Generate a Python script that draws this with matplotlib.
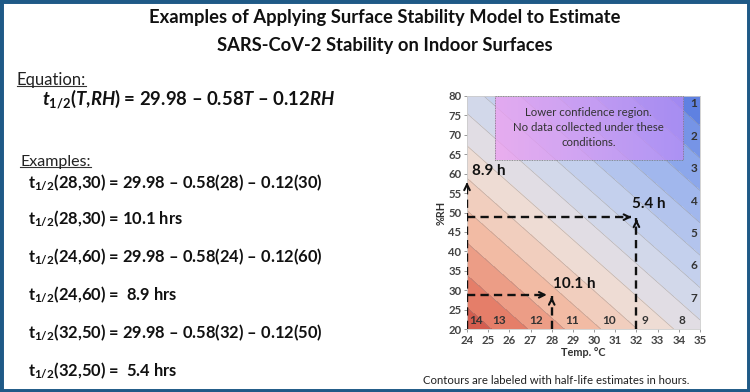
import numpy as np
import matplotlib
matplotlib.use("Agg")
from matplotlib import pyplot as plt
from matplotlib.colors import LinearSegmentedColormap
from matplotlib.patches import Rectangle
from matplotlib.lines import Line2D

# model: t_half = a - b*T - c*RH
coef_a, coef_b, coef_c = 29.98, 0.58, 0.12
temp_range = [24, 35]
rh_range = [20, 80]
levels = list(range(0, 15))
bottom_labels = [14, 13, 12, 11, 10, 9, 8]
right_labels = [1, 2, 3, 4, 5, 6, 7]

# worked examples (T, RH, half-life)
ex_temp = [28, 24, 32]
ex_rh = [30, 60, 50]
ex_hours = [10.1, 8.9, 5.4]

# lower confidence box (T from/to, RH from/to)
lowconf_temp = [25.3, 34.2]
lowconf_rh = [63.6, 80]

title_lines = ["Examples of Applying Surface Stability Model to Estimate",
               "SARS-CoV-2 Stability on Indoor Surfaces"]
example_lines = [
    "t$_{1/2}$(28,30) = 29.98 \u2013 0.58(28) \u2013 0.12(30)",
    "t$_{1/2}$(28,30) = 10.1 hrs",
    "t$_{1/2}$(24,60) = 29.98 \u2013 0.58(24) \u2013 0.12(60)",
    "t$_{1/2}$(24,60) =  8.9 hrs",
    "t$_{1/2}$(32,50) = 29.98 \u2013 0.58(32) \u2013 0.12(50)",
    "t$_{1/2}$(32,50) =  5.4 hrs",
]

plt.rcParams['font.family'] = ['Lato', 'DejaVu Sans']
plt.rcParams['mathtext.fontset'] = 'custom'
plt.rcParams['mathtext.rm'] = 'Lato:bold'
plt.rcParams['mathtext.it'] = 'Lato:italic:bold'
plt.rcParams['mathtext.bf'] = 'Lato:bold'

W, H = 750, 392
fig = plt.figure(figsize=(7.5, 3.92), dpi=100)
fig.patch.set_facecolor('white')

def fx(px):
    return px / W

def fy(py):
    return 1 - py / H

# title
fig.text(fx(385), fy(18), title_lines[0], ha='center', va='center',
         fontsize=13.2, fontweight='bold', color='#111111')
fig.text(fx(385), fy(45), title_lines[1], ha='center', va='center',
         fontsize=13.2, fontweight='bold', color='#111111')

eq_head = fig.text(fx(17), fy(80), "Equation:", ha='left', va='center',
                   fontsize=12, color='#222222')
fig.text(fx(42), fy(99),
         "$t_{1/2}$($T$,$RH$) = 29.98 \u2013 0.58$T$ \u2013 0.12$RH$",
         ha='left', va='center', fontsize=13.3, fontweight='bold', color='#111111')

ex_head = fig.text(fx(20), fy(162), "Examples:", ha='left', va='center',
                   fontsize=11.5, color='#222222')
ex_y = [183, 219, 257, 295, 333, 371]
for s, yy in zip(example_lines, ex_y):
    fig.text(fx(28), fy(yy), s, ha='left', va='center', fontsize=11.9,
             fontweight='bold', color='#111111')

# contour plot
ax = fig.add_axes([fx(467), fy(329), fx(700) - fx(467), fy(96) - fy(329)])
T = np.linspace(temp_range[0], temp_range[1], 300)
RH = np.linspace(rh_range[0], rh_range[1], 300)
TT, RR = np.meshgrid(T, RH)
Z = coef_a - coef_b * TT - coef_c * RR

cmap = LinearSegmentedColormap.from_list('hl', [
    (0.00, (0.33, 0.47, 0.87)),
    (0.20, (0.58, 0.68, 0.93)),
    (0.38, (0.76, 0.81, 0.93)),
    (0.52, (0.87, 0.87, 0.91)),
    (0.62, (0.94, 0.86, 0.82)),
    (0.75, (0.95, 0.74, 0.65)),
    (0.88, (0.91, 0.52, 0.43)),
    (1.00, (0.80, 0.30, 0.26)),
])
ax.contourf(TT, RR, Z, levels=levels, cmap=cmap, vmin=0, vmax=14, extend='both')
ax.contour(TT, RR, Z, levels=levels, colors='#8a8a8a', linewidths=0.4, alpha=0.6)

# lower confidence region
grad = np.linspace(0, 1, 100).reshape(1, -1)
box_cmap = LinearSegmentedColormap.from_list('box', [(0.93, 0.62, 0.95), (0.72, 0.55, 0.97)])
ax.imshow(grad, extent=[lowconf_temp[0], lowconf_temp[1], lowconf_rh[0], lowconf_rh[1]],
          cmap=box_cmap, alpha=0.75, aspect='auto', zorder=2)
ax.add_patch(Rectangle((lowconf_temp[0], lowconf_rh[0]),
                       lowconf_temp[1] - lowconf_temp[0], lowconf_rh[1] - lowconf_rh[0],
                       fill=False, ec='#777777', lw=0.6, ls=(0, (1, 1)), zorder=3))
ax.text(np.mean(lowconf_temp), np.mean(lowconf_rh),
        "Lower confidence region.\nNo data collected under these\nconditions.",
        ha='center', va='center', fontsize=8.2, color='#333333', linespacing=1.45, zorder=4)

# contour level labels
for k in bottom_labels:
    rh_lab = 22.3
    t_lab = max((coef_a - coef_c * rh_lab - (k - 0.5)) / coef_b, 24.45)
    ax.text(t_lab, rh_lab, str(k), ha='center', va='center', fontsize=8.5,
            fontweight='bold', color='#333333', zorder=4)
for k in right_labels:
    t_lab = 34.7
    rh_lab = (coef_a - coef_b * t_lab - (k - 0.5)) / coef_c
    ax.text(t_lab, rh_lab, str(k), ha='center', va='center', fontsize=8.5,
            fontweight='bold', color='#333333', zorder=4)

# example guide lines
dash = dict(color='#111111', lw=1.7, ls=(0, (3.5, 2.2)), zorder=5)
head = dict(arrowstyle='->', color='#111111', lw=1.5)
for t0, r0, h in zip(ex_temp, ex_rh, ex_hours):
    if t0 > temp_range[0]:
        ax.plot([t0, t0], [rh_range[0], r0 - 1.5], **dash)
        ax.annotate('', xy=(t0, r0 - 1.0), xytext=(t0, r0 - 3),
                    arrowprops=head, zorder=6)
        ax.plot([temp_range[0], t0 - 0.25], [r0 - 1.2, r0 - 1.2], **dash)
        ax.annotate('', xy=(t0 - 0.1, r0 - 1.2), xytext=(t0 - 0.6, r0 - 1.2),
                    arrowprops=head, zorder=6)
    else:
        ax.plot([t0, t0], [rh_range[0], r0 - 2.5], **dash)
        ax.annotate('', xy=(t0, r0 - 1.5), xytext=(t0, r0 - 4),
                    arrowprops=head, zorder=6)

ax.text(ex_temp[0] + 0.05, ex_rh[0] + 1.5, "%.1f h" % ex_hours[0], ha='left', va='center',
        fontsize=11, fontweight='bold', color='#111111', zorder=6)
ax.text(ex_temp[1] + 0.25, ex_rh[1] + 0.8, "%.1f h" % ex_hours[1], ha='left', va='center',
        fontsize=11, fontweight='bold', color='#111111', zorder=6)
ax.text(ex_temp[2] - 0.2, ex_rh[2] + 2.3, "%.1f h" % ex_hours[2], ha='left', va='center',
        fontsize=11, fontweight='bold', color='#111111', zorder=6)

ax.set_xlim(temp_range)
ax.set_ylim(rh_range)
ax.set_xticks(range(24, 36))
ax.set_yticks(range(20, 81, 5))
ax.tick_params(labelsize=8.2, length=2.5, width=0.6, colors='#888888', labelcolor='#444444', pad=1.5)
for lab in ax.get_xticklabels() + ax.get_yticklabels():
    lab.set_fontweight('bold')
for sp in ax.spines.values():
    sp.set_color('#cccccc')
    sp.set_linewidth(0.6)
ax.set_xlabel("Temp. \u00b0C", fontsize=7.8, fontweight='bold', color='#333333', labelpad=1)
ax.set_ylabel("%RH", fontsize=7.8, fontweight='bold', color='#333333', labelpad=1)

fig.text(fx(423), fy(381), "Contours are labeled with half-life estimates in hours.",
         ha='left', va='center', fontsize=8.2, color='#222222')

# underline the headings
fig.canvas.draw()
rend = fig.canvas.get_renderer()
for t in [eq_head, ex_head]:
    bb = t.get_window_extent(rend).transformed(fig.transFigure.inverted())
    fig.add_artist(Line2D([bb.x0, bb.x1], [bb.y0 + 0.004, bb.y0 + 0.004],
                          transform=fig.transFigure, color='#333333', lw=0.8))

# frame
fig.add_artist(Rectangle((0, 0), 1, 1, transform=fig.transFigure, fill=False,
                         ec='#1f5a87', lw=5))

fig.savefig("out.png", dpi=100)
